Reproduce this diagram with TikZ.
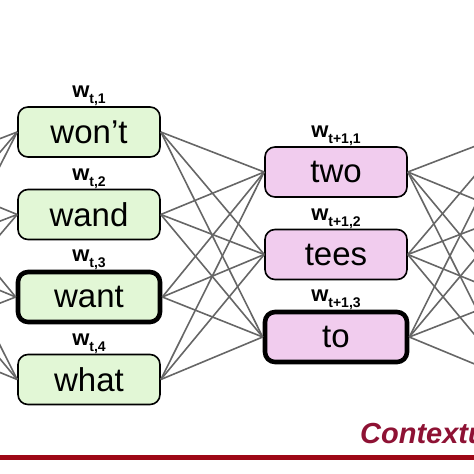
\documentclass[tikz,border=0pt]{standalone}
\usepackage{fontspec}
\setmainfont{Liberation Sans}
\definecolor{wordgreen}{RGB}{226,247,214}
\definecolor{wordpink}{RGB}{241,204,238}
\definecolor{edgegray}{RGB}{102,102,102}
\definecolor{barred}{RGB}{158,8,22}
\definecolor{titlered}{RGB}{142,18,52}
\tikzset{
  word/.style={draw=black, line width=1.6pt, rounded corners=10pt,
    minimum width=142pt, minimum height=50pt, inner sep=0pt,
    font=\fontsize{33}{33}\selectfont},
  chosen/.style={line width=4.6pt},
  link/.style={edgegray, line width=1.6pt},
  wlab/.style={label distance=0pt, inner sep=0pt},
}
\newcommand{\wname}[1]{\bfseries\fontsize{22}{22}\selectfont w\raisebox{-6pt}{\fontsize{14}{14}\selectfont #1}}
\begin{document}
\begin{tikzpicture}[x=1pt,y=-1pt]
\useasboundingbox (0,0) rectangle (474,474);
\clip (0,0) rectangle (474,474);
% Neighbour columns, outside the crop
\foreach \y [count=\j] in {172,254.5,337} \coordinate (prev\j) at (-87,\y);
\foreach \y [count=\i] in {132,214.5,297,379.5} \coordinate (next\i) at (512,\y);
% --- Column t ---
\node[word, fill=wordgreen, label={[wlab]above:\wname{t,1}}] (g1) at (89,132) {won’t};
\node[word, fill=wordgreen, label={[wlab]above:\wname{t,2}}] (g2) at (89,214.5) {wand};
\node[word, chosen, fill=wordgreen, label={[wlab]above:\wname{t,3}}] (g3) at (89,297) {want};
\node[word, fill=wordgreen, label={[wlab]above:\wname{t,4}}] (g4) at (89,379.5) {what};
% --- Column t+1 ---
\node[word, fill=wordpink, label={[wlab]above:\wname{t+1,1}}] (p1) at (336,172) {two};
\node[word, fill=wordpink, label={[wlab]above:\wname{t+1,2}}] (p2) at (336,254.5) {tees};
\node[word, chosen, fill=wordpink, label={[wlab]above:\wname{t+1,3}}] (p3) at (336,337) {to};
% Links
\foreach \i in {1,...,4} {
  \foreach \j in {1,...,3} {
    \draw[link] (prev\j) -- (g\i.west);
    \draw[link] (g\i.east) -- (p\j.west);
    \draw[link] (p\j.east) -- (next\i);
  }
}
% Title bar
\node[anchor=base west, inner sep=0pt, text=titlered,
  font=\fontsize{29}{29}\selectfont\bfseries\itshape] (title) at (360,443) {Contextu};
\fill[barred] (0,455) rectangle (474,460);
\end{tikzpicture}
\end{document}
